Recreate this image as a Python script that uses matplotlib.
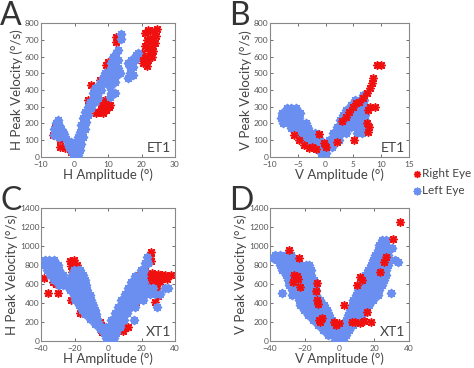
import numpy as np
import matplotlib
matplotlib.use('Agg')
import matplotlib.pyplot as plt

plt.rcParams['font.family'] = ['Lato', 'DejaVu Sans']

# ---- panel A: H amplitude vs H peak velocity, ET1 ----
a_right = [(-5.8, 180), (-6.4, 130), (-4.9, 144), (-4.3, 100), (-4.3, 60), (-2.8, 55),
           (-1.0, 30), (0.1, 12), (4.0, 342), (4.9, 432), (6.4, 264), (7.6, 462),
           (9.1, 504), (9.4, 552), (9.9, 570), (12.4, 684), (12.4, 714),
           (8.2, 320), (8.8, 300), (9.5, 280), (10.2, 300), (8.5, 260), (9.8, 330),
           (10.5, 310), (9.0, 340), (8.0, 285), (7.0, 270),
           (21.0, 740), (22.0, 760), (23.0, 750), (24.6, 764), (21.5, 700), (22.5, 710),
           (23.5, 700), (24.2, 720), (21.0, 660), (22.0, 650), (23.0, 660), (24.0, 680),
           (22.5, 620), (23.5, 630), (20.0, 620), (21.0, 600), (22.0, 580), (20.5, 560),
           (21.5, 545), (23.0, 600), (19.8, 590)]
a_left = [(-6.0, 130), (-6.0, 170), (-5.5, 205), (-5.0, 220), (-4.5, 190), (-5.0, 160),
          (-4.0, 170), (-3.5, 150), (-4.5, 120), (-3.0, 140), (-2.5, 110), (-2.0, 80),
          (-1.5, 60), (-1.0, 40), (-0.5, 20), (0.0, 5), (-1.0, 90), (0.0, 60),
          (0.5, 30), (1.0, 10), (1.5, 40), (0.5, 90), (1.0, 120), (2.0, 80),
          (2.5, 120), (1.5, 150), (2.0, 190), (3.0, 170), (2.5, 230), (3.5, 210),
          (3.0, 270), (4.0, 250), (4.0, 300), (5.0, 290), (4.5, 330), (5.5, 340),
          (5.5, 380), (6.5, 370), (6.0, 410), (7.0, 400), (7.5, 440), (8.0, 400),
          (8.5, 470), (9.5, 440), (10.5, 420), (9.0, 500), (10.0, 480), (11.0, 460),
          (12.0, 450), (12.5, 490), (10.5, 520), (11.5, 510), (13.0, 530), (11.0, 560),
          (12.0, 560), (13.0, 580), (11.5, 600), (12.5, 620), (13.0, 640), (12.0, 380),
          (11.0, 380), (7.0, 350), (6.0, 330), (13.5, 500), (10.5, 360),
          (14.0, 735), (14.0, 705),
          (16.0, 470), (16.5, 500), (17.5, 490), (16.5, 540), (17.5, 540), (18.0, 580),
          (17.0, 580), (18.5, 610), (19.0, 620), (16.0, 560)]

# ---- panel B: V amplitude vs V peak velocity, ET1 ----
b_right = [(9.2, 550), (10.0, 550), (8.5, 470), (8.3, 440), (8.0, 414), (7.5, 384),
           (6.8, 350), (6.0, 330), (5.5, 320), (5.0, 300), (4.2, 270), (3.6, 240),
           (3.0, 215), (8.0, 300), (8.8, 300), (7.6, 280), (7.8, 180), (7.7, 150),
           (7.5, 200), (-5.7, 132), (-4.8, 102), (-3.9, 72), (-3.0, 54), (-1.8, 48),
           (-1.2, 140), (-0.3, 84), (0.0, 60), (5.1, 102), (2.1, 90), (-2.5, 60)]
b_left_rows = [
    (294, [-7, -6.2, -5.4]), (264, [-7.8, -7, -6.2, -5.4, -4.6]),
    (234, [-8, -7.2, -6.4, -5.6, -4.8]), (204, [-7.6, -6.8, -6, -5.2, -4.4, -3.6]),
    (174, [-6.2, -5.4, -4.6, -3.8, -3.1]), (144, [-5, -4.2, -3.4, -2.6, -1.9]),
    (114, [-4.2, -3.4, -2.6, -1.8, -1.1]), (84, [-3.1, -2.3, -1.5, -0.8]),
    (54, [-1.9, -1.1, -0.4]), (24, [-0.8, 0]),
    (60, [0.3, 1.2]), (100, [0.6, 1.5, 2.4]), (144, [1.3, 2.1, 2.9, 3.7, 5.6, 6.5]),
    (180, [2.1, 2.9, 3.7, 4.5, 5.3, 6.1, 6.9]), (222, [2.5, 3.3, 4.1, 4.9, 5.7, 6.5, 7.1]),
    (252, [3.1, 3.9, 4.7, 5.5, 6.3, 7.1]), (282, [3.7, 4.5, 5.3, 6.1, 6.9]),
    (312, [4.5, 5.3, 6.1, 6.9]), (342, [5.3, 6.1, 6.9]), (372, [6.8]),
]

# ---- panel C: H amplitude vs H peak velocity, XT1 ----
c_right = [(-38.0, 660), (-36.0, 510), (-30.0, 510), (-33.0, 625), (-31.0, 600),
           (-22.5, 840), (-20.5, 850), (-22.0, 790), (-20.0, 780), (-21.5, 730),
           (-19.5, 720), (-18.5, 800), (-19.0, 675), (-18.5, 620), (-18.0, 560),
           (-17.5, 500), (-17.0, 440), (-16.5, 380), (-16.0, 330), (-15.0, 305),
           (-17.0, 300), (-22.0, 430), (-5.0, 200), (-4.0, 160), (-4.0, 120), (-3.5, 90),
           (-3.0, 150), (10.0, 135), (12.0, 150), (9.0, 110),
           (18.0, 690), (20.0, 720), (22.0, 740), (24.0, 700), (26.0, 720), (28.0, 700),
           (30.0, 710), (32.0, 700), (34.0, 690), (36.0, 680), (37.5, 690), (20.0, 660),
           (23.0, 650), (26.0, 660), (29.0, 650), (32.0, 660), (35.0, 650), (24.0, 620),
           (28.0, 610), (31.0, 620), (22.0, 600),
           (25.5, 940), (25.0, 890), (25.5, 840), (25.7, 537), (28.0, 410), (29.0, 560),
           (30.0, 470), (17.0, 414)]
c_left_rows = [
    (853, [-37.5, -35, -32]), (800, [-37.5, -35, -32.5, -30]),
    (750, [-36.5, -34, -31.5, -29, -20.5, -18, -16.5]),
    (700, [-34.5, -32, -29.5, -27, -21.5, -19, -16.5, -15]),
    (640, [-32.5, -30, -27.5, -25.5, -23.5, -21, -18.5, -16, -14]),
    (590, [-29.5, -27, -25, -24.5, -22, -19.5, -17, -14.5, -13]),
    (540, [-22.5, -20, -17.5, -15, -12.5]), (480, [-20.5, -18, -15.5, -13, -11]),
    (430, [-19.5, -17, -14.5, -12, -10]), (380, [-17.5, -15, -12.5, -10, -9]),
    (330, [-15.5, -13, -10.5, -8]), (280, [-13.5, -11, -8.5, -7]),
    (230, [-11, -8.5, -6.5]), (180, [-8, -5.5]), (130, [-5, -3]),
    (80, [-2.5, 0, 2.5, 5]), (30, [-1, 1.5, 3.5]), (150, [-1, 1.5, 4, 7]),
    (220, [2, 4.5, 7, 9.5, 15.5]), (290, [4, 6.5, 9, 11.5]),
    (360, [6, 8.5, 11, 13.5, 16, 29]), (430, [8, 10.5, 13, 15.5, 18, 21]),
    (500, [10, 12.5, 15, 17.5, 20, 22.5, 25, 28, 31]),
    (560, [12, 14.5, 17, 19.5, 22, 24.5, 27, 34, 36]),
    (620, [14, 16.5, 19, 21.5]), (680, [16, 18.5, 21]), (750, [19.5, 21.5]),
    (820, [22, 24]), (880, [23]),
]

# ---- panel D: V amplitude vs V peak velocity, XT1 ----
d_right = [(-29.0, 958), (-23.3, 874), (-26.0, 695), (-27.0, 625), (-24.5, 680),
           (-22.7, 569), (-24.0, 650), (-13.0, 611), (-13.5, 530), (-13.0, 432),
           (-12.5, 390), (-11.8, 221), (-11.0, 200), (-10.0, 240), (-3.2, 200),
           (-2.0, 170), (-0.5, 190), (2.6, 379), (7.2, 200), (9.0, 200), (12.0, 190),
           (14.0, 210), (18.0, 200), (15.8, 305), (10.0, 590), (11.8, 674), (13.0, 640),
           (23.3, 727), (25.6, 832), (26.5, 880), (31.0, 1075), (35.0, 1250)]
d_left_rows = [
    (905, [-37, -34, -31, -28, 20.5, 23, 25.5, 28]),
    (850, [-36, -33, -30, -27, -25, 19.5, 22, 24.5, 27.5]),
    (800, [-34, -31, -28, -25, -23, -19.5, -17.5, 18, 20.5, 23, 25.5, 28]),
    (750, [-33, -30, -27, -24.5, -21, -18.5, -16.5, 16.5, 19, 21.5, 24, 26.5]),
    (695, [-31, -28, -25, -22.5, -19.5, -16.5, 14.5, 17, 19.5, 22, 24.5, 26.5]),
    (640, [-29.5, -26.5, -23.5, -20.5, -17.5, -14.5, 13, 15.5, 18, 20.5, 23, 25.5]),
    (590, [-29, -26, -23, -20, -17, -14, 12, 14.5, 17, 19.5, 22, 24.5]),
    (535, [-27.5, -24.5, -21.5, -18.5, -15.5, -13.5, 10.5, 13, 15.5, 18, 20.5, 23]),
    (484, [-25, -22, -19, -16, -13.5, -27.3, 9.5, 12, 14.5, 17, 19.5, 22]),
    (430, [-23.5, -20.5, -17.5, -14.5, -11.5, 8, 10.5, 13, 15.5, 18, 19.5]),
    (379, [-22.5, -19.5, -16.5, -13.5, -10.5, -9, 7, 9.5, 12, 14.5, 17]),
    (325, [-20.5, -17.5, -14.5, -11.5, -8.5, -7, 6, 8.5, 11, 13.5, 15.5]),
    (274, [-18, -15, -12, -9, -6, 5, 7.5, 10, 13]),
    (220, [-15.5, -12.5, -9.5, -6.5, -4.5, 3.5, 6, 8.5, 10.5]),
    (168, [-12.5, -9.5, -6.5, -3.5, 2, 4.5, 7.5]),
    (115, [-9.5, -7, -4.5, -2, 0.5, 3, 5.5]),
    (63, [-6.5, -4, -1.5, 2, 4]), (15, [-2.5, 0, 2]),
    (960, [22, 24.5, 27]), (1010, [23, 25.5, 27]), (1060, [24.5, 26.5]),
    (505, [-33]), (870, [-38.5]), (853, [32]), (980, [30.5]), (510, [29.5]), (830, [33.5]),
]


def rows_to_xy(rows):
    return np.array([(x, y) for y, xs in rows for x in xs])


b_left = rows_to_xy(b_left_rows)
c_left = rows_to_xy(c_left_rows)
d_left = rows_to_xy(d_left_rows)

panels = [
    ('A', a_right, a_left, (-10, 30), range(-10, 31, 10), (0, 800), range(0, 801, 100),
     'H Amplitude (°)', 'H Peak Velocity (°/s)', 'ET1'),
    ('B', b_right, b_left, (-10, 15), range(-10, 16, 5), (0, 800), range(0, 801, 100),
     'V Amplitude (°)', 'V Peak Velocity (°/s)', 'ET1'),
    ('C', c_right, c_left, (-40, 40), range(-40, 41, 20), (0, 1400), range(0, 1401, 200),
     'H Amplitude (°)', 'H Peak Velocity (°/s)', 'XT1'),
    ('D', d_right, d_left, (-40, 40), range(-40, 41, 20), (0, 1400), range(0, 1401, 200),
     'V Amplitude (°)', 'V Peak Velocity (°/s)', 'XT1'),
]

W, H = 474, 368
boxes = [(41, 23, 134, 134), (270, 23, 139, 134), (41, 208, 134, 133), (270, 208, 139, 133)]
red = '#f01010'
blue = '#6a8ff0'
star = (8, 2, 0)

fig = plt.figure(figsize=(W / 100, H / 100), dpi=100)
handles = None
for (letter, right, left, xl, xt, yl, yt, xlab, ylab, tag), (x0, y0, w, h) in zip(panels, boxes):
    ax = fig.add_axes([x0 / W, 1 - (y0 + h) / H, w / W, h / H])
    r = np.array(right)
    l = np.array(left)
    # red eye drawn on top where it shows through the blue cloud
    red_on_top = letter in ('B', 'D')
    hr = ax.scatter(r[:, 0], r[:, 1], s=26, marker=star, color=red, linewidths=1.2,
                    zorder=4 if red_on_top else 2)
    hl = ax.scatter(l[:, 0], l[:, 1], s=30, marker=star, color=blue, linewidths=1.35,
                    zorder=3)
    if handles is None:
        handles = (hr, hl)
    ax.set_xlim(*xl)
    ax.set_ylim(*yl)
    ax.set_xticks(list(xt))
    ax.set_yticks(list(yt))
    ax.tick_params(direction='in', top=True, right=True, length=2.5, width=0.6,
                   labelsize=6, colors='#555555', pad=1.2)
    ax.tick_params(axis='x', pad=3)
    for sp in ax.spines.values():
        sp.set_color('#888888')
        sp.set_linewidth(0.8)
    ax.set_xlabel(xlab, fontsize=9.5, color='#444444', labelpad=0.5)
    ax.set_ylabel(ylab, fontsize=9.5, color='#444444', labelpad=1)
    ax.text(0.97, 0.02, tag, transform=ax.transAxes, ha='right', va='bottom',
            fontsize=10, color='#444444')
    fig.text((x0 - 41) / W, 1 - (y0 - 23) / H - 0.003, letter, fontsize=23,
             color='#333333', ha='left', va='top')

leg = fig.legend(handles, ['Right Eye', 'Left Eye'], loc='upper left',
                 bbox_to_anchor=(413 / W, 1 - 168 / H), frameon=False, fontsize=8.5,
                 handletextpad=0.1, handlelength=0.7, labelspacing=0.55, borderpad=0,
                 borderaxespad=0, markerscale=0.8)
for t in leg.get_texts():
    t.set_color('#444444')

fig.savefig('out.png', dpi=100)
